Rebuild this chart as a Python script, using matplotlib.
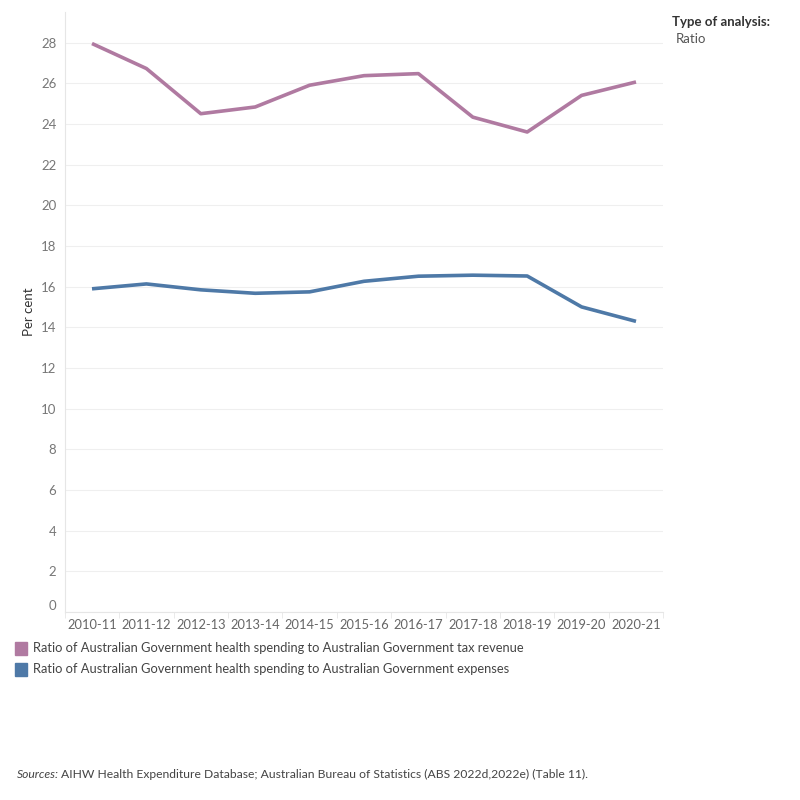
import matplotlib.pyplot as plt
import numpy as np

years = ['2010-11', '2011-12', '2012-13', '2013-14', '2014-15', '2015-16',
         '2016-17', '2017-18', '2018-19', '2019-20', '2020-21']
tax_revenue = [27.95, 26.72, 24.50, 24.83, 25.90, 26.37, 26.47, 24.33, 23.60, 25.40, 26.06]
expenses = [15.89, 16.13, 15.84, 15.67, 15.74, 16.26, 16.51, 16.56, 16.52, 15.00, 14.29]
y_ticks = list(range(0, 29, 2))

plt.rcParams['font.family'] = ['Lato', 'DejaVu Sans']

fig = plt.figure(figsize=(8, 8), dpi=100)
ax = fig.add_axes([0.081, 0.235, 0.748, 0.75])

x = np.arange(len(years))
ax.plot(x, tax_revenue, color='#B07AA1', linewidth=2.6, solid_capstyle='butt')
ax.plot(x, expenses, color='#4E79A7', linewidth=2.6, solid_capstyle='butt')

ax.set_xlim(-0.5, len(years) - 0.5)
ax.set_ylim(0, 29.5)
ax.set_yticks(y_ticks)
ax.set_yticklabels([str(t) for t in y_ticks])
ax.set_xticks(x)
ax.set_xticklabels(years)
ax.set_xticks(np.arange(-0.5, len(years), 1), minor=True)

ax.grid(axis='y', color='#efefef', linewidth=0.8)
ax.set_axisbelow(True)
for s in ['top', 'right']:
    ax.spines[s].set_visible(False)
ax.spines['left'].set_color('#e6e6e6')
ax.spines['bottom'].set_color('#e6e6e6')
ax.tick_params(axis='y', length=0, labelsize=9.5, labelcolor='#777777', pad=6)
ax.tick_params(axis='x', which='major', length=0, labelsize=9.3, labelcolor='#666666', pad=5)
ax.tick_params(axis='x', which='minor', length=4, color='#e6e6e6')

# nudge the 0 label up like the original
for lbl in ax.get_yticklabels():
    if lbl.get_text() == '0':
        lbl.set_va('bottom')

ax.set_ylabel('Per cent', fontsize=9.5, color='#333333')
ax.yaxis.set_label_coords(-0.05, 0.5)

# top-right filter label
fig.text(0.840, 0.972, 'Type of analysis:', fontsize=9.5, fontweight='bold', color='#333333', va='center')
fig.text(0.845, 0.951, 'Ratio', fontsize=9.5, color='#555555', va='center')

# bottom legend
legend_items = [('#B07AA1', 'Ratio of Australian Government health spending to Australian Government tax revenue'),
                ('#4E79A7', 'Ratio of Australian Government health spending to Australian Government expenses')]
for i, (col, lab) in enumerate(legend_items):
    yc = 1 - (648 + i * 21) / 800
    fig.patches.append(plt.Rectangle((15 / 800, yc - 6.5 / 800), 12 / 800, 13 / 800,
                                     transform=fig.transFigure, color=col))
    fig.text(33 / 800, yc, lab, fontsize=9.3, color='#444444', va='center')

fig.text(17 / 800, 1 - 774 / 800, 'Sources:', fontsize=8.7, style='italic', color='#444444', va='center')
fig.text(61 / 800, 1 - 774 / 800,
         'AIHW Health Expenditure Database; Australian Bureau of Statistics (ABS 2022d,2022e) (Table 11).',
         fontsize=8.7, color='#444444', va='center')

fig.savefig('out.png', dpi=100)
